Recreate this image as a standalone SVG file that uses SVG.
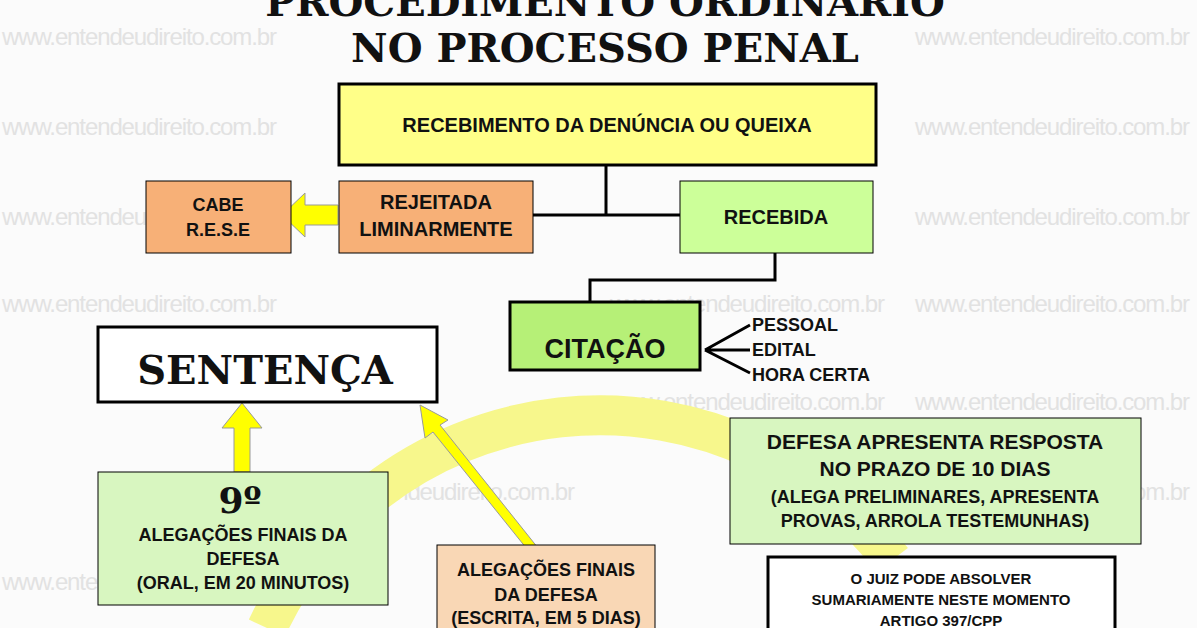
<svg xmlns="http://www.w3.org/2000/svg" width="1197" height="628" viewBox="0 0 1197 628">
<style>
.wm{font-family:"Liberation Sans",sans-serif;font-size:24px;fill:#e2e2e2}
.b{stroke:#000;stroke-width:3}
.t{font-family:"Liberation Sans",Arial,sans-serif;font-weight:bold;fill:#111;text-anchor:middle}
.ti{font-family:"DejaVu Serif",serif;font-weight:bold;fill:#111;text-anchor:middle}
.arr{fill:#ffff00;stroke:#999;stroke-width:1}
</style>
<rect width="1197" height="628" fill="#fbfbfb"/>
<g id="watermark">
<text class="wm" x="2" y="45" textLength="275">www.entendeudireito.com.br</text><text class="wm" x="915" y="45" textLength="275">www.entendeudireito.com.br</text>
<text class="wm" x="2" y="135" textLength="275">www.entendeudireito.com.br</text><text class="wm" x="915" y="135" textLength="275">www.entendeudireito.com.br</text>
<text class="wm" x="2" y="225" textLength="275">www.entendeudireito.com.br</text><text class="wm" x="915" y="225" textLength="275">www.entendeudireito.com.br</text>
<text class="wm" x="2" y="312" textLength="275">www.entendeudireito.com.br</text><text class="wm" x="610" y="312" textLength="275">www.entendeudireito.com.br</text><text class="wm" x="915" y="312" textLength="275">www.entendeudireito.com.br</text>
<text class="wm" x="610" y="410" textLength="275">www.entendeudireito.com.br</text><text class="wm" x="915" y="410" textLength="275">www.entendeudireito.com.br</text>
<text class="wm" x="300" y="500" textLength="275">www.entendeudireito.com.br</text><text class="wm" x="915" y="500" textLength="275">www.entendeudireito.com.br</text>
<text class="wm" x="2" y="590" textLength="275">www.entendeudireito.com.br</text>
</g>
<path d="M267,628 A367,367 0 0 1 892,560" fill="none" stroke="#f7f78c" stroke-width="40"/>
<g id="title">
<text class="ti" x="605" y="16" font-size="40">PROCEDIMENTO ORDINÁRIO</text>
<text class="ti" x="605" y="62" font-size="40">NO PROCESSO PENAL</text>
</g>
<g id="connectors" fill="none" stroke="#000" stroke-width="3">
<path d="M606,165V215M533,215H680"/>
<path d="M775,253V280H590V302"/>
<path d="M705,350L750,325M705,350H750M705,350L750,373"/>
<path class="arr" d="M338,205H305V193L282,215L305,237V225H338Z"/>
<path class="arr" d="M234,472V428H222L242,403L262,428H250V472Z"/>
<path class="arr" d="M538,548L440,425L448,420L420,405L425,438L433,432L531,554Z"/>
<rect x="775" y="592" width="8" height="36" fill="#ffff00" stroke="none"/>
</g>
<g id="n-recebimento"><rect class="b" x="339" y="84" width="537" height="81" fill="#ffff88"/><text class="t" x="607" y="132" font-size="20">RECEBIMENTO DA DENÚNCIA OU QUEIXA</text></g>
<g id="n-cabe"><rect x="146" y="181" width="145" height="72" fill="#f7b077" stroke="#000"/><text class="t" x="218" y="211" font-size="18">CABE</text><text class="t" x="218" y="236" font-size="18">R.E.S.E</text></g>
<g id="n-rejeitada"><rect x="339" y="181" width="194" height="72" fill="#f7b077" stroke="#000"/><text class="t" x="436" y="209" font-size="20">REJEITADA</text><text class="t" x="436" y="236" font-size="20">LIMINARMENTE</text></g>
<g id="n-recebida"><rect x="680" y="181" width="193" height="72" fill="#ccff99" stroke="#000"/><text class="t" x="776" y="224" font-size="20">RECEBIDA</text></g>
<g id="n-citacao"><rect class="b" x="510" y="302" width="190" height="68" fill="#b6f077"/><text class="t" x="605" y="358" font-size="27">CITAÇÃO</text>
<text class="t" x="752" y="331" font-size="18" style="text-anchor:start">PESSOAL</text><text class="t" x="752" y="356" font-size="18" style="text-anchor:start">EDITAL</text><text class="t" x="752" y="381" font-size="18" style="text-anchor:start">HORA CERTA</text></g>
<g id="n-sentenca"><rect class="b" x="98" y="327" width="339" height="75" fill="#fff"/><text class="ti" x="265" y="384" font-size="40">SENTENÇA</text></g>
<g id="n-9"><rect x="98" y="472" width="290" height="133" fill="#d8f6c0" stroke="#000"/><text class="ti" x="240" y="513" font-size="36">9º</text><text class="t" x="243" y="541" font-size="18">ALEGAÇÕES FINAIS DA</text><text class="t" x="243" y="565" font-size="18">DEFESA</text><text class="t" x="243" y="589" font-size="18">(ORAL, EM 20 MINUTOS)</text></g>
<g id="n-escrita"><rect x="437" y="545" width="218" height="90" fill="#f9d7b5" stroke="#000"/><text class="t" x="546" y="576" font-size="18">ALEGAÇÕES FINAIS</text><text class="t" x="546" y="601" font-size="18">DA DEFESA</text><text class="t" x="546" y="624" font-size="18">(ESCRITA, EM 5 DIAS)</text></g>
<g id="n-defesa"><rect x="730" y="418" width="411" height="126" fill="#d8f6c0" stroke="#000"/><text class="t" x="935" y="449" font-size="21">DEFESA APRESENTA RESPOSTA</text><text class="t" x="935" y="476" font-size="21">NO PRAZO DE 10 DIAS</text><text class="t" x="935" y="503" font-size="18">(ALEGA PRELIMINARES, APRESENTA</text><text class="t" x="935" y="527" font-size="18">PROVAS, ARROLA TESTEMUNHAS)</text></g>
<g id="n-juiz"><rect class="b" x="768" y="557" width="347" height="80" fill="#fff"/><text class="t" x="941" y="584" font-size="15">O  JUIZ PODE ABSOLVER</text><text class="t" x="941" y="605" font-size="15">SUMARIAMENTE NESTE MOMENTO</text><text class="t" x="941" y="626" font-size="15">ARTIGO 397/CPP</text></g>
</svg>
